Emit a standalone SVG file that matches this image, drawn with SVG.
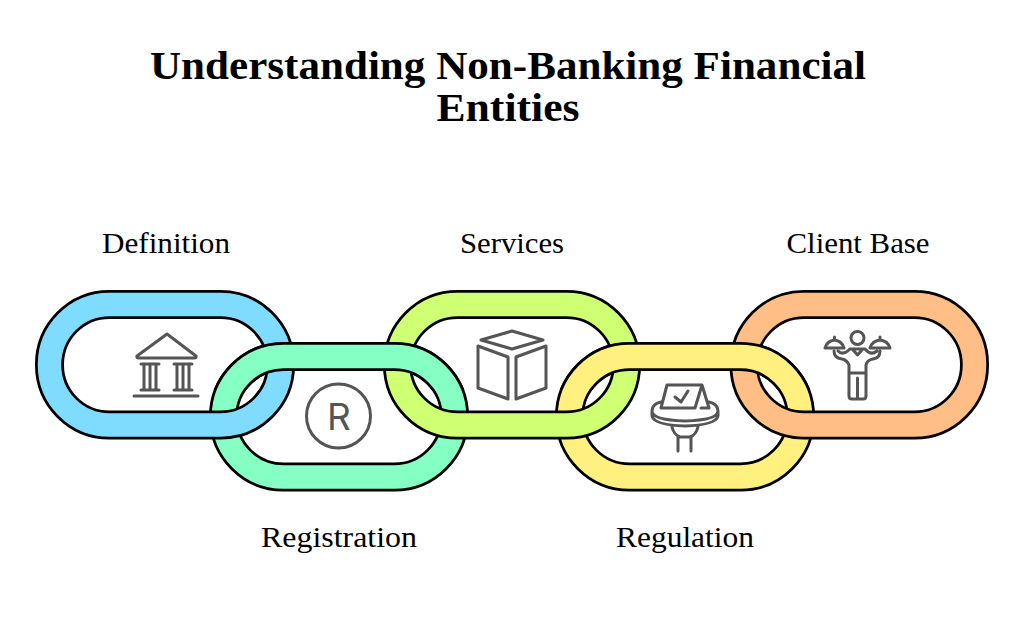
<svg xmlns="http://www.w3.org/2000/svg" xmlns:xlink="http://www.w3.org/1999/xlink" width="1024" height="626" viewBox="0 0 1024 626">
<style>
text{font-family:"Liberation Serif","DejaVu Serif",serif;fill:#000;text-anchor:middle}
.title{font-size:39px;font-weight:700}
.label{font-size:29px}
.edge{fill:none;stroke:#000;stroke-width:29}
.band{fill:none;stroke-width:23.5}
.icon{fill:none;stroke:#555;stroke-width:3;stroke-linejoin:round;stroke-linecap:round}
</style>
<defs>
<clipPath id="upper"><rect x="0" y="330" width="1024" height="60"/></clipPath>
<g id="ring-shape-2"><rect class="edge" x="223.500" y="356.500" width="231" height="120.500" rx="60"/><rect class="band" x="223.500" y="356.500" width="231" height="120.500" rx="60" stroke="#86FFC4"/></g>
<g id="ring-shape-4"><rect class="edge" x="569.500" y="356.500" width="231" height="120.500" rx="60"/><rect class="band" x="569.500" y="356.500" width="231" height="120.500" rx="60" stroke="#FFF07F"/></g>
</defs>
<rect width="1024" height="626" fill="#fff"/>
<text class="title" x="508" y="79" textLength="716" lengthAdjust="spacingAndGlyphs">Understanding Non-Banking Financial</text>
<text class="title" x="508" y="121" textLength="143" lengthAdjust="spacingAndGlyphs">Entities</text>
<g id="connectors"></g>
<use href="#ring-shape-2" xlink:href="#ring-shape-2"/>
<use href="#ring-shape-4" xlink:href="#ring-shape-4"/>
<g id="definition">
<rect class="edge" x="49.500" y="304.500" width="231" height="120.500" rx="60"/><rect class="band" x="49.500" y="304.500" width="231" height="120.500" rx="60" stroke="#80DCFF"/>
<path class="icon" d="M167 334L137 356Q136 358 139 358H194Q197 358 196 356Z"/>
<path class="icon" d="M141 364H159M144 364V390M150 364V390M156 364V390M141 390H159M174 364H192M177 364V390M183 364V390M189 364V390M174 390H192M134 396H198"/>
<text class="label" x="166" y="253" textLength="128" lengthAdjust="spacingAndGlyphs">Definition</text>
</g>
<g id="services">
<rect class="edge" x="397.500" y="304.500" width="229" height="120.500" rx="60"/><rect class="band" x="397.500" y="304.500" width="229" height="120.500" rx="60" stroke="#CFFF73"/>
<path class="icon" d="M512 331L543 340L512 349L481 340ZM478 346L508 357V399L478 388ZM546 346L516 357V399L546 388Z"/>
<text class="label" x="512" y="253" textLength="104" lengthAdjust="spacingAndGlyphs">Services</text>
</g>
<g id="client-base">
<rect class="edge" x="744" y="304.500" width="230.500" height="120.500" rx="60"/><rect class="band" x="744" y="304.500" width="230.500" height="120.500" rx="60" stroke="#FFBE86"/>
<circle class="icon" cx="857.500" cy="338" r="6.500"/>
<path class="icon" d="M825 348H844Q842 341 834.500 340Q827 341 825 348ZM870 348H890Q888 341 880 340Q872 341 870 348ZM834.500 340V337M880 340V337M834 351Q834 358 842 359Q847 360 849 365V373M880 351Q880 358 873 359Q867 360 866 365V373M838 351Q843 356 850 349H865Q871 356 877 351M853 350L857.500 355L862 350M849 373H866V396Q866 399 863 399H852Q849 399 849 396ZM857.500 378V399"/>
<text class="label" x="858" y="253" textLength="143" lengthAdjust="spacingAndGlyphs">Client Base</text>
</g>
<g id="registration">
<use href="#ring-shape-2" xlink:href="#ring-shape-2" clip-path="url(#upper)"/>
<circle class="icon" cx="338.500" cy="416" r="32"/>
<text x="339" y="430" style="font-family:Inter,'Liberation Sans',sans-serif;font-size:37px;font-weight:400;fill:#555">R</text>
<text class="label" x="339" y="547" textLength="156" lengthAdjust="spacingAndGlyphs">Registration</text>
</g>
<g id="regulation">
<use href="#ring-shape-4" xlink:href="#ring-shape-4" clip-path="url(#upper)"/>
<path class="icon" d="M667 385H702L695 408H661ZM702 385L709 408H701M675 397L681 402L688 391M661 402Q652 404 652 411Q652 420 685 421Q718 420 718 411Q718 404 709 402M652 411V416Q654 425 685 426Q716 425 718 416V411M672 427Q674 435 680 437H690Q696 435 698 427M678 437V451M691 437V451"/>
<text class="label" x="685" y="547" textLength="138" lengthAdjust="spacingAndGlyphs">Regulation</text>
</g>
</svg>
